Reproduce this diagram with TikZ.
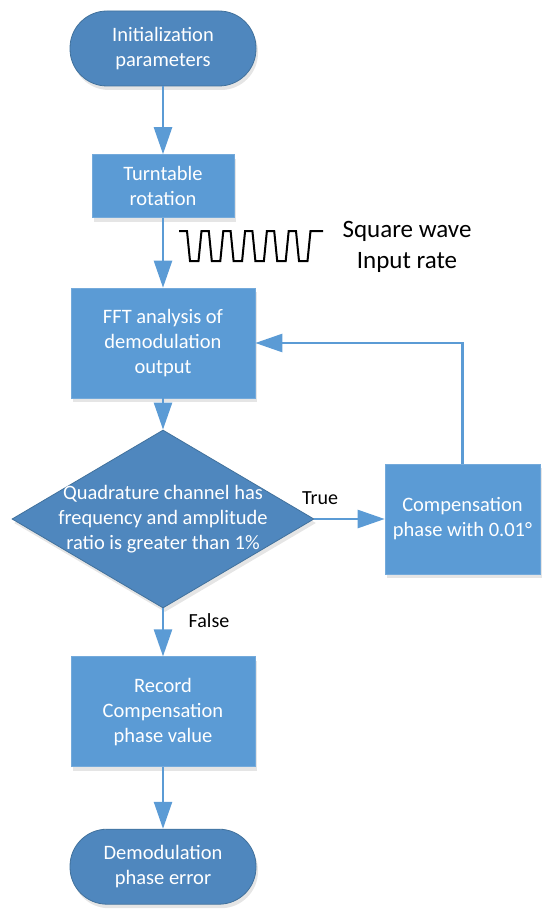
\documentclass[tikz,border=0pt]{standalone}
\usepackage{fontspec}
\setmainfont{Carlito}
\usetikzlibrary{shapes.geometric,arrows.meta,shadows}
\definecolor{boxblue}{HTML}{5B9BD5}
\definecolor{termblue}{HTML}{4F87BE}
\definecolor{edgeblue}{HTML}{41719C}
\definecolor{arrowblue}{HTML}{5B9BD5}
\begin{document}
\begin{tikzpicture}[x=1pt,y=-1pt,
  softshadow/.style={drop shadow={shadow xshift=2pt, shadow yshift=-4pt, fill=black, opacity=0.10}},
  boxtext/.style={text=white, align=center, font=\fontsize{20.5}{25}\selectfont},
  procbox/.style={boxtext, rectangle, fill=boxblue, draw=boxblue!85!white, line width=0.6pt, inner sep=0pt, softshadow},
  termbox/.style={boxtext, rectangle, rounded corners=37pt, fill=termblue, draw=edgeblue, line width=0.8pt, inner sep=0pt, minimum width=186pt, minimum height=75pt, softshadow},
  decbox/.style={diamond, fill=termblue, draw=edgeblue, line width=0.8pt, inner sep=0pt, minimum width=302pt, minimum height=178pt, softshadow},
  flow/.style={draw=arrowblue, line width=2.5pt, -{Triangle[length=27pt,width=18pt]}},
  branchlabel/.style={text=black, font=\fontsize{20}{24}\selectfont, inner sep=0pt},
  wavetext/.style={text=black, align=center, font=\fontsize{25}{31}\selectfont, inner sep=0pt}
]
\useasboundingbox (0,0) rectangle (550,915);

\node[termbox] (start) at (163,48.5) {Initialization\\parameters};
\node[procbox, minimum width=142pt, minimum height=63pt] (turn) at (163,186) {Turntable\\rotation};
\node[procbox, minimum width=184pt, minimum height=110pt] (fft) at (163,343) {FFT analysis of\\demodulation\\output};
\node[decbox, label={[boxtext]center:Quadrature channel has\\frequency and amplitude\\ratio is greater than 1\%}] (dec) at (163,519) {};
\node[procbox, minimum width=155pt, minimum height=110pt] (comp) at (462.5,519) {Compensation\\phase with 0.01°};
\node[procbox, minimum width=184pt, minimum height=110pt] (rec) at (163,711.7) {Record\\Compensation\\phase value};
\node[termbox] (end) at (163,866.7) {Demodulation\\phase error};

\node[branchlabel] (truelab) at (320,498) {True};
\node[branchlabel] (falselab) at (209,621) {False};
\node[wavetext] (wavelab) at (407,247) {Square wave\\Input rate};

\draw[flow] (start) -- (turn);
\draw[flow] (turn) -- (fft);
\draw[flow] (fft) -- (dec);
\draw[flow] (dec.east) -- (comp.west);
\draw[flow] (dec.south) -- (rec.north);
\draw[flow] (rec) -- (end);
\draw[flow] (comp.north) |- (fft.east);

% square wave input
\draw[black, line width=2pt, line join=miter]
  (179,231) -- (187,231)
  \foreach \k in {0,...,5} {
    -- ({187+21.8*\k+3},261) -- ({187+21.8*\k+11.5},261)
    -- ({187+21.8*\k+14.5},231) -- ({187+21.8*\k+21.8},231)
  } -- (323,231);
\end{tikzpicture}
\end{document}
